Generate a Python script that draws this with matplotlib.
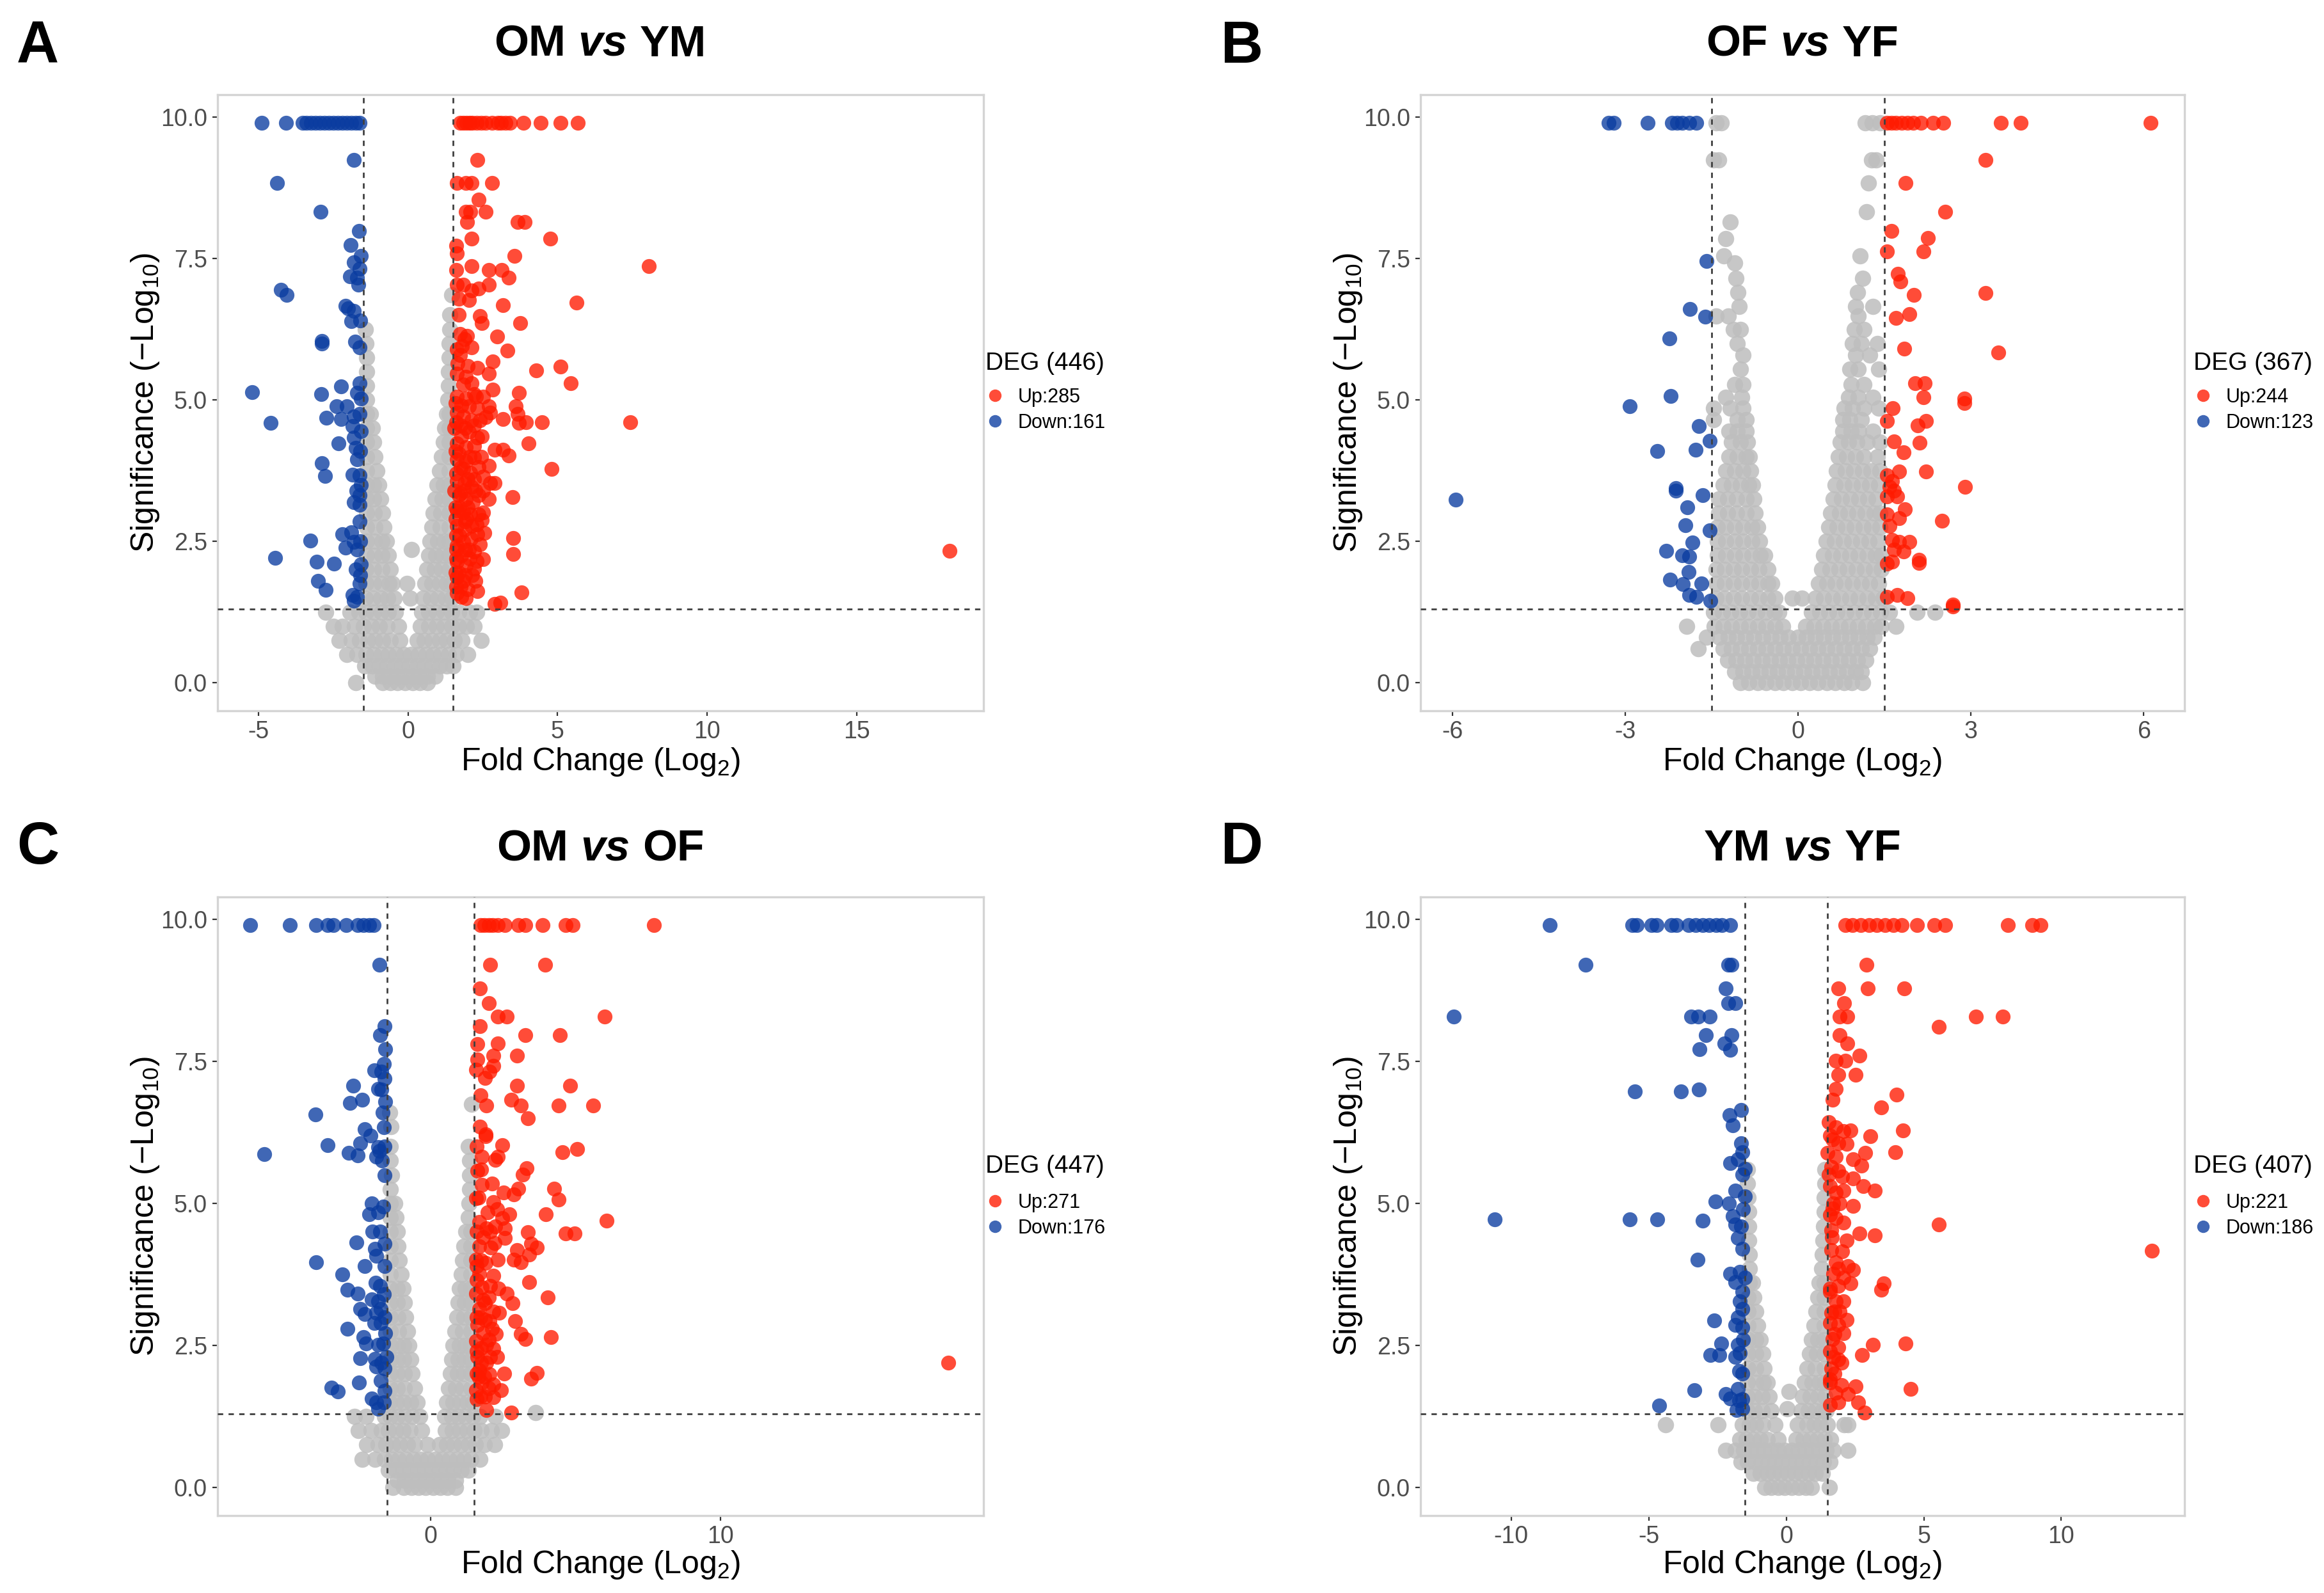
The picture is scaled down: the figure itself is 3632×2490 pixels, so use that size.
import matplotlib
matplotlib.use("Agg")
import matplotlib.pyplot as plt
from matplotlib.lines import Line2D

plt.rcParams['font.family'] = ['Liberation Sans', 'DejaVu Sans']
plt.rcParams['mathtext.default'] = 'regular'
plt.rcParams['axes.unicode_minus'] = False

RED = '#FF1A00'
BLUE = '#0A3CA0'
GREY = '#BEBEBE'

# ---------------- data ----------------
TITLES = [("OM", "YM"), ("OF", "YF"), ("OM", "OF"), ("YM", "YF")]
LETTERS = ["A", "B", "C", "D"]
DEG_TOTAL = [446, 367, 447, 407]
UP_COUNT = [285, 244, 271, 221]
DOWN_COUNT = [161, 123, 176, 186]

XLIMS = [(-6.37, 19.24), (-6.55, 6.71), (-7.35, 19.07), (-13.3, 14.48)]
XTICKS = [[-5, 0, 5, 10, 15], [-6, -3, 0, 3, 6], [0, 10], [-10, -5, 0, 5, 10]]
YTICKS = [0, 2.5, 5, 7.5, 10]
FC_CUT = 1.5
P_CUT = 1.301

TOP = 9.9

A_UP = [(x, TOP) for x in [1.74, 1.85, 1.95, 2.05, 2.15, 2.3, 2.45, 2.6, 2.8, 3.0, 3.1, 3.25, 3.4, 3.85, 4.43, 5.1, 5.67]] + [
    (2.32, 9.24), (1.64, 8.83), (1.93, 8.83), (2.12, 8.83), (2.81, 8.83), (2.36, 8.54), (1.93, 8.32), (2.08, 8.32),
    (2.60, 8.32), (1.98, 8.14), (3.66, 8.14), (3.90, 8.14), (2.12, 7.85), (4.76, 7.85), (1.60, 7.73), (1.63, 7.59),
    (3.56, 7.54), (8.05, 7.37), (2.12, 7.37), (2.70, 7.30), (3.13, 7.30), (3.37, 7.16), (1.64, 7.04), (1.84, 7.04),
    (2.12, 6.93), (2.36, 6.97), (2.70, 7.04), (1.69, 6.79), (2.03, 6.76), (3.18, 6.68), (5.63, 6.72), (2.41, 6.48),
    (2.46, 6.36), (3.75, 6.36), (1.74, 6.17), (1.88, 6.07), (1.98, 6.13), (2.12, 5.93), (2.99, 6.12), (3.32, 5.87),
    (1.64, 5.89), (1.74, 5.79), (2.84, 5.68), (2.32, 5.57), (2.70, 5.46), (4.28, 5.52), (5.10, 5.59), (5.43, 5.30),
    (1.64, 5.46), (1.93, 5.41), (2.12, 5.30), (1.84, 5.27), (2.84, 5.18), (3.71, 5.13), (1.64, 5.06), (1.93, 5.02),
    (2.27, 5.06), (2.51, 5.06), (2.03, 4.89), (2.32, 4.85), (2.70, 4.89), (3.61, 4.89), (3.66, 4.75), (1.64, 4.78),
    (1.84, 4.71), (2.12, 4.64), (2.41, 4.64), (2.60, 4.70), (2.75, 4.78), (3.18, 4.66), (3.71, 4.59), (3.95, 4.61),
    (4.47, 4.61), (7.42, 4.61), (1.55, 4.50), (1.79, 4.36), (2.03, 4.43), (2.32, 4.33), (1.64, 4.23), (1.93, 4.16),
    (2.22, 4.19), (2.46, 4.36), (4.02, 4.23), (2.89, 4.12), (3.18, 4.12), (3.37, 4.02), (1.64, 3.95), (1.93, 3.91),
    (2.22, 3.98), (1.84, 3.78), (2.08, 3.71), (2.36, 3.81), (2.70, 3.84), (4.79, 3.78), (1.64, 3.57), (1.88, 3.53),
    (2.12, 3.46), (2.51, 3.64), (2.75, 3.53), (2.89, 3.53), (1.69, 3.32), (1.93, 3.25), (2.17, 3.19), (2.36, 3.32),
    (2.70, 3.25), (3.49, 3.28), (1.64, 3.05), (1.84, 3.01), (2.08, 2.98), (2.36, 2.98), (2.51, 3.01), (1.64, 2.77),
    (1.88, 2.70), (2.12, 2.77), (2.32, 2.63), (2.46, 2.87), (1.64, 2.42), (1.84, 2.49), (2.03, 2.35), (2.22, 2.32),
    (3.51, 2.56), (3.51, 2.27), (1.64, 2.14), (1.93, 2.07), (2.22, 2.01), (2.51, 2.18), (1.64, 1.87), (1.84, 1.80),
    (2.32, 1.62), (3.80, 1.60), (1.64, 1.59), (1.79, 1.52), (1.93, 1.49), (2.89, 1.39), (3.08, 1.42), (18.1, 2.33),
    (1.55, 3.40), (1.58, 2.90), (1.60, 2.20), (1.72, 2.60), (1.75, 3.80), (1.78, 4.90), (1.95, 2.90), (2.00, 3.60),
    (2.05, 2.20), (1.70, 1.95), (1.60, 1.70), (2.00, 1.65), (2.25, 1.80), (2.40, 2.45), (2.20, 3.60),
    (1.58, 4.95), (1.60, 4.60), (1.58, 4.10), (1.60, 3.70), (1.58, 3.10), (1.60, 2.60), (1.60, 2.35), (1.58, 1.95),
    (1.75, 4.55), (1.70, 4.05), (1.75, 3.35), (1.72, 3.10), (1.78, 2.25), (1.75, 1.70), (1.90, 4.50), (1.88, 3.40),
    (1.90, 2.85), (1.92, 2.35), (1.90, 1.90), (2.05, 4.00), (2.00, 3.10), (2.10, 2.55), (2.15, 1.90), (2.20, 4.55),
    (2.25, 3.40), (2.30, 2.80), (2.30, 2.15), (2.45, 4.00), (2.50, 3.40), (2.55, 2.65), (1.65, 5.65), (1.80, 5.95),
    (1.70, 6.50), (1.62, 7.30), (2.00, 5.60), (2.20, 5.10)]

A_DOWN = [(x, TOP) for x in [-4.9, -4.09, -3.53, -3.4, -3.25, -3.1, -2.95, -2.8, -2.65, -2.5, -2.35, -2.2, -2.05, -1.9, -1.75, -1.62]] + [
    (-1.81, 9.24), (-4.38, 8.83), (-2.93, 8.33), (-1.64, 7.99), (-1.92, 7.74), (-1.57, 7.54), (-1.81, 7.43),
    (-1.62, 7.32), (-1.95, 7.18), (-1.71, 7.16), (-1.66, 7.04), (-4.25, 6.95), (-4.06, 6.85), (-2.09, 6.66),
    (-2.00, 6.62), (-1.81, 6.57), (-1.90, 6.39), (-2.89, 6.04), (-2.89, 6.00), (-1.76, 6.03), (-1.62, 5.93),
    (-5.21, 5.14), (-2.91, 5.10), (-2.24, 5.24), (-1.62, 5.30), (-1.71, 5.13), (-1.57, 5.02), (-4.60, 4.59),
    (-2.38, 4.89), (-2.05, 4.89), (-2.74, 4.68), (-2.24, 4.66), (-1.81, 4.71), (-1.62, 4.75), (-1.86, 4.54),
    (-1.81, 4.33), (-2.33, 4.23), (-2.88, 3.88), (-2.77, 3.65), (-1.71, 3.95), (-1.86, 3.68), (-1.62, 3.67),
    (-1.62, 3.32), (-1.81, 3.19), (-1.62, 3.15), (-1.62, 2.85), (-3.27, 2.51), (-2.19, 2.63), (-1.90, 2.66),
    (-2.09, 2.39), (-1.81, 2.49), (-1.71, 2.35), (-4.44, 2.21), (-3.05, 2.14), (-2.48, 2.11), (-3.01, 1.80),
    (-2.75, 1.64), (-1.62, 1.76), (-1.86, 1.55), (-1.81, 1.45), (-1.71, 1.52),
    (-1.60, 6.40), (-1.58, 4.45), (-1.60, 4.10), (-1.58, 3.50), (-1.60, 2.50), (-1.58, 2.10), (-1.60, 1.90),
    (-1.75, 2.00), (-1.72, 3.40), (-1.75, 4.15)]

A_GREY = [
    (6.85, [1.45]), (6.5, [1.40]), (6.25, [-1.42, 1.40]), (6.0, [-1.40, 1.38]), (5.75, [-1.38, 1.38]),
    (5.5, [-1.38, 1.36]), (5.25, [-1.38, 1.35]), (5.0, [-1.38, 1.33]),
    (4.75, [-1.38, -1.25, 1.28, 1.38]), (4.5, [-1.38, -1.20, 1.22, 1.38]), (4.25, [-1.38, -1.16, 1.18, 1.38]),
    (4.0, [-1.38, -1.10, 1.12, 1.38]), (3.75, [-1.38, -1.04, 1.05, 1.38]),
    (3.5, [-1.38, -1.15, -0.97, 0.96, 1.18, 1.38]), (3.25, [-1.38, -1.15, -0.92, 0.90, 1.15, 1.38]),
    (3.0, [-1.38, -1.12, -0.86, 0.85, 1.10, 1.38]), (2.75, [-1.38, -1.10, -0.80, 0.80, 1.08, 1.38]),
    (2.5, [-1.38, -1.12, -0.88, -0.72, 0.73, 0.98, 1.20, 1.38]),
    (2.35, [0.11]),
    (2.25, [-1.38, -1.12, -0.88, -0.66, 0.68, 0.92, 1.15, 1.38]),
    (2.0, [-1.40, -1.15, -0.88, -0.60, 0.62, 0.88, 1.12, 1.38]),
    (1.75, [-1.40, -1.15, -0.90, -0.64, -0.53, -0.03, 0.56, 0.80, 1.05, 1.30, 1.45]),
    (1.5, [-1.42, -1.18, -0.92, -0.68, -0.47, 0.06, 0.50, 0.75, 1.00, 1.25, 1.45]),
    (1.25, [-2.75, -1.95, -1.65, -1.40, -1.15, -0.90, -0.65, -0.42, 0.46, 0.70, 0.95, 1.20, 1.45, 1.70, 2.05, 2.30]),
    (1.0, [-2.50, -2.20, -1.80, -1.50, -1.22, -0.95, -0.70, -0.32, 0.42, 0.70, 0.95, 1.20, 1.45, 1.70, 1.95, 2.20]),
    (0.75, [-2.30, -1.90, -1.62, -1.35, -1.10, -0.85, -0.60, -0.28, 0.30, 0.55, 0.80, 1.05, 1.30, 1.55, 1.80, 2.45]),
    (0.5, [-2.05, -1.70, -1.40, -1.15, -0.90, -0.65, -0.40, -0.15, 0.10, 0.35, 0.60, 0.85, 1.10, 1.35, 1.60, 2.00]),
    (0.3, [-1.45, -1.20, -0.95, -0.70, -0.45, -0.20, 0.05, 0.30, 0.55, 0.80, 1.05, 1.30, 1.50]),
    (0.12, [-1.10, -0.85, -0.60, -0.35, -0.10, 0.15, 0.40, 0.65, 0.90]),
    (0.0, [-1.75, -0.85, -0.60, -0.35, -0.10, 0.15, 0.40, 0.65])]

B_UP = [(x, TOP) for x in [1.55, 1.62, 1.7, 1.8, 1.9, 2.0, 2.14, 2.35, 2.52, 3.52, 3.87, 6.12]] + [
    (3.26, 9.24), (1.87, 8.83), (2.56, 8.32), (1.62, 7.99), (2.26, 7.86), (1.55, 7.63), (2.18, 7.63), (1.73, 7.23),
    (1.78, 7.09), (2.01, 6.85), (3.26, 6.89), (1.70, 6.45), (1.93, 6.52), (1.85, 5.90), (3.48, 5.84), (2.04, 5.30),
    (2.20, 5.30), (2.18, 5.05), (2.89, 5.02), (2.89, 4.94), (1.65, 4.85), (1.55, 4.63), (2.08, 4.55), (2.22, 4.63),
    (1.67, 4.27), (2.11, 4.24), (1.84, 4.07), (1.76, 3.73), (2.22, 3.73), (1.55, 3.67), (1.63, 3.57), (1.59, 3.46),
    (1.67, 3.39), (1.55, 3.29), (1.72, 3.29), (2.90, 3.46), (1.86, 3.07), (1.55, 2.98), (1.76, 2.91), (2.50, 2.86),
    (1.59, 2.77), (1.63, 2.53), (1.76, 2.49), (1.93, 2.49), (1.67, 2.35), (1.84, 2.32), (1.55, 2.11), (1.63, 2.14),
    (2.10, 2.17), (2.10, 2.12), (1.55, 1.52), (1.72, 1.55), (1.90, 1.50), (2.69, 1.38), (2.69, 1.35)]

B_DOWN = [(x, TOP) for x in [-3.28, -3.20, -2.61, -2.18, -2.10, -2.01, -1.89, -1.76]] + [
    (-1.59, 7.45), (-1.87, 6.61), (-1.61, 6.47), (-2.23, 6.09), (-2.21, 5.07), (-2.92, 4.89), (-1.72, 4.54),
    (-1.53, 4.28), (-2.44, 4.10), (-1.77, 4.12), (-2.12, 3.44), (-2.12, 3.40), (-5.94, 3.24), (-1.65, 3.32),
    (-1.92, 3.10), (-1.95, 2.79), (-1.53, 2.69), (-1.83, 2.48), (-2.29, 2.33), (-2.01, 2.25), (-1.89, 2.23),
    (-1.90, 1.96), (-2.22, 1.82), (-2.00, 1.74), (-1.67, 1.76), (-1.89, 1.55), (-1.76, 1.52), (-1.52, 1.45)]

B_GREY = [
    (9.9, [-1.42, -1.33, 1.17, 1.29, 1.42]), (9.24, [-1.46, -1.38, 1.28, 1.36]), (8.83, [1.22]), (8.32, [1.19]),
    (8.15, [-1.17]), (7.85, [-1.25]), (7.55, [-1.29, 1.08]), (7.42, [-1.10]), (7.15, [-1.08, 1.12]),
    (6.9, [-1.04, 1.04]), (6.65, [-1.02, 1.00, 1.30]), (6.48, [-1.42, -1.21, 1.05]),
    (6.24, [-1.12, -1.00, 0.98, 1.15]), (6.0, [-1.05, 0.95, 1.10, 1.38]), (5.79, [-0.95, 1.00, 1.25]),
    (5.54, [-1.00, 0.90, 1.05, 1.40]), (5.27, [-1.10, -0.95, 0.92, 1.15]), (5.05, [-1.25, -0.98, 0.88, 1.05, 1.30]),
    (4.85, [-1.46, -1.17, -0.95, 0.80, 0.95, 1.15, 1.40]), (4.65, [-1.46, -1.05, -0.90, 0.78, 0.90, 1.10]),
    (4.45, [-1.20, -1.05, -0.90, 0.78, 0.92, 1.06, 1.30]),
    (4.25, [-1.15, -1.00, -0.87, 0.74, 0.88, 1.02, 1.20, 1.42]),
    (4.0, [-1.20, -1.05, -0.90, -0.84, 0.70, 0.85, 1.00, 1.15, 1.38]),
    (3.75, [-1.25, -1.10, -0.95, -0.82, 0.67, 0.82, 0.97, 1.12, 1.27, 1.42]),
    (3.5, [-1.30, -1.15, -1.00, -0.85, -0.79, 0.65, 0.80, 0.95, 1.10, 1.25, 1.40]),
    (3.25, [-1.38, -1.22, -1.06, -0.90, -0.76, 0.61, 0.76, 0.91, 1.06, 1.21, 1.36]),
    (3.0, [-1.38, -1.22, -1.06, -0.90, -0.74, 0.57, 0.72, 0.87, 1.02, 1.17, 1.32, 1.42]),
    (2.75, [-1.40, -1.25, -1.10, -0.95, -0.80, -0.70, 0.53, 0.68, 0.83, 0.98, 1.13, 1.28, 1.42]),
    (2.5, [-1.40, -1.25, -1.10, -0.95, -0.80, -0.66, 0.49, 0.64, 0.79, 0.94, 1.09, 1.24, 1.39]),
    (2.25, [-1.40, -1.25, -1.10, -0.95, -0.80, -0.65, -0.58, 0.45, 0.60, 0.75, 0.90, 1.05, 1.20, 1.35, 1.45]),
    (2.0, [-1.42, -1.27, -1.12, -0.97, -0.82, -0.67, -0.52, 0.41, 0.56, 0.71, 0.86, 1.01, 1.16, 1.31, 1.45]),
    (1.75, [-1.42, -1.27, -1.12, -0.97, -0.82, -0.67, -0.52, -0.45, 0.36, 0.50, 0.65, 0.80, 0.95, 1.10, 1.25, 1.40]),
    (1.5, [-1.42, -1.27, -1.12, -0.97, -0.82, -0.67, -0.52, -0.40, -0.10, 0.07, 0.30, 0.45, 0.60, 0.75, 0.90, 1.05,
           1.20, 1.35, 1.48]),
    (1.25, [-1.46, -1.31, -1.16, -1.01, -0.86, -0.71, -0.56, -0.41, -0.33, 0.24, 0.38, 0.53, 0.68, 0.83, 0.98, 1.13,
            1.28, 1.43, 1.59, 2.07, 2.38]),
    (1.0, [-1.93, -1.45, -1.30, -1.15, -1.00, -0.85, -0.70, -0.55, -0.40, -0.26, 0.14, 0.28, 0.43, 0.58, 0.73,
           0.88, 1.03, 1.18, 1.33, 1.45, 1.70]),
    (0.8, [-1.59, -1.36, -1.21, -1.06, -0.91, -0.76, -0.61, -0.46, -0.31, -0.16, 0.00, 0.15, 0.30, 0.45, 0.60,
           0.75, 0.90, 1.05, 1.20, 1.32]),
    (0.6, [-1.73, -1.30, -1.15, -1.00, -0.85, -0.70, -0.55, -0.40, -0.25, -0.10, 0.05, 0.20, 0.35, 0.50, 0.65,
           0.80, 0.95, 1.10, 1.25]),
    (0.4, [-1.22, -1.07, -0.92, -0.77, -0.62, -0.47, -0.32, -0.17, -0.02, 0.13, 0.28, 0.43, 0.58, 0.73, 0.88,
           1.03, 1.18]),
    (0.2, [-1.10, -0.95, -0.80, -0.65, -0.50, -0.35, -0.20, -0.05, 0.10, 0.25, 0.40, 0.55, 0.70, 0.85, 1.00, 1.10]),
    (0.0, [-1.00, -0.85, -0.70, -0.55, -0.40, -0.25, -0.10, 0.05, 0.20, 0.35, 0.50, 0.65, 0.80, 0.93, 1.12])]

C_UP = [(x, TOP) for x in [1.72, 1.85, 2.0, 2.15, 2.32, 2.57, 3.02, 3.27, 3.86, 4.66, 4.91, 7.70]] + [
    (2.05, 9.2), (3.94, 9.2), (1.69, 8.79), (2.0, 8.52), (2.32, 8.29), (2.62, 8.29), (6.01, 8.29), (1.69, 8.12),
    (3.27, 7.96), (4.46, 7.96), (1.62, 7.80), (2.32, 7.82), (2.97, 7.60), (2.17, 7.60), (1.62, 7.53), (2.17, 7.42),
    (1.57, 7.35), (1.87, 7.21), (2.02, 7.32), (2.97, 7.07), (4.81, 7.07), (1.72, 6.90), (1.92, 6.72), (2.77, 6.82),
    (3.12, 6.72), (3.36, 6.50), (4.41, 6.72), (5.61, 6.72), (1.90, 6.22), (1.90, 6.18), (2.47, 6.03), (4.54, 5.90),
    (5.06, 5.96), (1.77, 5.82), (2.22, 5.77), (2.32, 5.82), (3.32, 5.62), (3.17, 5.51), (1.62, 5.57), (1.77, 5.33),
    (2.12, 5.35), (2.52, 5.19), (3.02, 5.26), (2.87, 5.16), (4.26, 5.26), (4.41, 5.07), (1.57, 5.09), (2.17, 5.02),
    (2.72, 4.81), (2.47, 4.74), (1.97, 4.84), (3.98, 4.81), (6.06, 4.70), (1.67, 4.67), (1.92, 4.56), (2.22, 4.60),
    (2.57, 4.56), (3.36, 4.49), (2.57, 4.39), (4.66, 4.47), (4.96, 4.47), (3.46, 4.29), (3.66, 4.22), (2.97, 4.18),
    (3.41, 4.10), (1.67, 4.25), (2.07, 4.22), (1.57, 4.01), (2.32, 4.01), (2.87, 4.01), (3.12, 3.97), (1.67, 3.76),
    (2.17, 3.73), (1.77, 3.52), (1.57, 3.41), (3.41, 3.62), (2.62, 3.41), (2.82, 3.24), (2.17, 3.10), (2.37, 3.07),
    (2.92, 2.93), (2.02, 2.93), (1.67, 3.14), (1.87, 3.24), (4.04, 3.34), (1.62, 2.86), (1.82, 2.72), (2.12, 2.79),
    (1.57, 2.58), (1.92, 2.51), (2.17, 2.44), (3.12, 2.70), (3.27, 2.61), (4.14, 2.65), (1.62, 2.30), (1.92, 2.20),
    (1.67, 2.06), (2.02, 1.99), (1.77, 1.85), (2.17, 1.81), (2.42, 1.71), (1.57, 1.71), (1.87, 1.60), (2.17, 1.59),
    (2.54, 2.00), (3.46, 1.92), (3.66, 2.02), (1.92, 1.36), (2.77, 1.32), (17.86, 2.20), (1.60, 3.90), (1.80, 3.30),
    (2.00, 2.60), (1.75, 2.45), (2.30, 2.30), (1.65, 1.95), (2.05, 3.55), (2.35, 3.50), (1.80, 4.40), (2.30, 4.90),
    (1.70, 6.35), (1.58, 4.50), (1.60, 3.65), (1.58, 3.00), (1.60, 2.40), (1.58, 2.00), (1.60, 1.55), (1.75, 4.00),
    (1.72, 3.00), (1.75, 2.20), (1.72, 1.60), (1.90, 3.95), (1.88, 2.95), (1.85, 1.95), (2.05, 4.50), (2.00, 3.35),
    (2.05, 2.30), (2.00, 1.75), (2.20, 4.30), (2.25, 2.70), (1.65, 5.10), (1.60, 6.00), (1.75, 5.60)]

C_DOWN = [(x, TOP) for x in [-6.22, -4.86, -3.96, -3.56, -3.36, -2.92, -2.52, -2.32, -2.12, -1.97]] + [
    (-1.77, 9.2), (-1.60, 8.12), (-1.75, 7.96), (-1.57, 7.71), (-1.62, 7.46), (-1.94, 7.34), (-1.70, 7.32),
    (-1.70, 7.00), (-1.82, 7.02), (-2.67, 7.07), (-2.79, 6.77), (-2.37, 6.82), (-1.57, 6.79), (-3.97, 6.57),
    (-1.62, 6.34), (-2.27, 6.31), (-2.07, 6.20), (-2.42, 6.06), (-2.82, 5.89), (-2.52, 5.84), (-5.73, 5.87),
    (-3.56, 6.03), (-1.82, 5.99), (-1.87, 5.82), (-1.67, 5.75), (-1.77, 5.92), (-2.02, 5.00), (-2.12, 4.81),
    (-1.82, 4.84), (-1.64, 4.95), (-2.57, 4.31), (-1.59, 4.29), (-1.92, 4.20), (-1.87, 4.08), (-3.94, 3.96),
    (-3.05, 3.75), (-2.28, 3.90), (-1.75, 3.55), (-2.87, 3.48), (-2.52, 3.41), (-2.02, 3.31), (-1.82, 3.28),
    (-1.72, 3.14), (-2.42, 3.14), (-2.27, 3.05), (-1.87, 3.07), (-2.87, 2.79), (-2.32, 2.65), (-2.24, 2.54),
    (-1.82, 2.51), (-1.57, 2.72), (-1.64, 2.54), (-2.42, 2.28), (-1.92, 2.26), (-1.52, 2.30), (-1.87, 2.13),
    (-3.43, 1.76), (-3.20, 1.69), (-2.47, 1.85), (-1.72, 1.88), (-2.02, 1.57), (-1.82, 1.39), (-1.87, 1.50),
    (-1.60, 3.90), (-1.62, 3.40), (-1.58, 3.00), (-1.60, 2.10), (-1.58, 1.70), (-1.62, 1.50), (-1.75, 4.50),
    (-1.72, 2.90), (-1.70, 2.20), (-1.95, 2.90), (-1.90, 3.60), (-2.00, 4.50), (-1.60, 5.50), (-1.58, 6.00),
    (-1.65, 6.60), (-1.60, 7.20)]

C_GREY = [
    (6.75, [1.42]), (6.6, [-1.42]), (6.35, [-1.37]), (6.0, [-1.40, 1.30]), (5.75, [-1.38, 1.35]),
    (5.5, [-1.35, 1.35]), (5.25, [-1.38, 1.35]), (5.0, [-1.38, -1.24, 1.33]), (4.75, [-1.38, -1.20, 1.30]),
    (4.5, [-1.38, -1.15, 1.22, 1.38]), (4.25, [-1.38, -1.12, 1.15, 1.38]), (4.0, [-1.38, -1.08, 1.10, 1.38]),
    (3.75, [-1.38, -1.02, 1.05, 1.38]), (3.5, [-1.38, -1.15, -0.96, 1.00, 1.20, 1.38]),
    (3.25, [-1.38, -1.15, -0.90, 0.95, 1.18, 1.38]), (3.0, [-1.38, -1.12, -0.85, 0.90, 1.15, 1.38]),
    (2.75, [-1.38, -1.10, -0.80, 0.84, 1.10, 1.38]), (2.5, [-1.38, -1.15, -0.92, -0.74, 0.78, 1.00, 1.20, 1.38]),
    (2.25, [-1.38, -1.15, -0.92, -0.69, 0.73, 0.95, 1.18, 1.38]),
    (2.0, [-1.38, -1.15, -0.90, -0.64, 0.69, 0.92, 1.15, 1.38]),
    (1.75, [-1.40, -1.15, -0.90, -0.56, 0.62, 0.85, 1.10, 1.38]),
    (1.5, [-1.42, -1.18, -0.92, -0.68, -0.46, 0.55, 0.78, 1.02, 1.25, 1.45]),
    (1.32, [3.61]),
    (1.25, [-2.62, -2.22, -1.60, -1.38, -1.15, -0.90, -0.65, -0.38, 0.48, 0.72, 0.96, 1.20, 1.45, 1.70, 2.22]),
    (1.0, [-2.50, -2.05, -1.70, -1.45, -1.20, -0.95, -0.70, -0.30, 0.50, 0.75, 1.00, 1.25, 1.50, 1.75, 2.10, 2.45]),
    (0.75, [-2.20, -1.80, -1.55, -1.30, -1.05, -0.80, -0.55, -0.12, 0.30, 0.55, 0.80, 1.05, 1.30, 1.55, 1.85,
            2.20]),
    (0.5, [-2.37, -1.92, -1.60, -1.35, -1.10, -0.85, -0.60, -0.35, -0.10, 0.15, 0.40, 0.65, 0.90, 1.15, 1.40,
           1.70]),
    (0.3, [-1.45, -1.20, -0.95, -0.70, -0.45, -0.20, 0.05, 0.30, 0.55, 0.80, 1.05, 1.30]),
    (0.12, [-1.15, -0.90, -0.65, -0.40, -0.15, 0.10, 0.35, 0.60, 0.85]),
    (0.0, [-1.30, -0.92, -0.67, -0.42, -0.17, 0.08, 0.33, 0.58, 0.85])]

D_UP = [(x, TOP) for x in [2.16, 2.4, 2.7, 3.0, 3.3, 3.6, 3.9, 4.2, 4.75, 5.38, 5.79, 8.05, 8.95, 9.25]] + [
    (2.91, 9.2), (1.89, 8.79), (2.96, 8.79), (4.30, 8.79), (2.11, 8.52), (1.93, 8.29), (2.21, 8.29), (6.89, 8.29),
    (7.88, 8.29), (5.55, 8.11), (1.93, 7.96), (2.21, 7.82), (2.66, 7.60), (1.80, 7.51), (2.16, 7.51), (1.89, 7.26),
    (2.52, 7.26), (1.80, 7.02), (1.68, 6.82), (4.00, 6.92), (3.45, 6.69), (1.54, 6.43), (1.80, 6.34), (2.07, 6.27),
    (2.34, 6.29), (1.68, 6.13), (1.89, 6.06), (1.50, 5.89), (1.80, 5.82), (1.63, 5.64), (1.89, 5.57), (3.05, 6.18),
    (4.25, 6.29), (2.88, 5.89), (3.96, 5.90), (2.43, 5.78), (2.73, 5.66), (1.54, 5.51), (2.04, 5.47), (2.43, 5.44),
    (2.79, 5.31), (2.07, 5.23), (1.80, 5.19), (3.23, 5.23), (2.43, 4.96), (1.68, 4.91), (1.80, 4.74), (2.07, 4.66),
    (1.63, 4.53), (5.55, 4.63), (2.66, 4.47), (3.23, 4.44), (13.3, 4.17), (1.63, 4.18), (2.04, 4.16), (1.80, 3.97),
    (2.25, 3.90), (2.43, 3.83), (1.71, 3.76), (2.07, 3.69), (2.34, 3.59), (1.89, 3.55), (1.80, 3.28), (2.07, 3.28),
    (3.55, 3.59), (3.45, 3.48), (1.63, 3.07), (1.89, 2.86), (2.07, 2.72), (1.68, 2.61), (1.89, 2.47), (1.71, 2.30),
    (1.63, 2.09), (3.14, 2.51), (2.75, 2.33), (4.34, 2.54), (1.80, 1.67), (2.52, 1.78), (2.25, 1.64), (1.89, 1.50),
    (2.61, 1.50), (2.84, 1.32), (4.52, 1.73), (1.60, 3.45), (1.95, 3.10), (2.20, 2.95), (1.75, 2.70), (2.00, 2.20),
    (1.60, 1.90), (1.65, 4.40), (2.20, 4.35), (1.70, 5.00), (2.20, 6.05), (1.60, 3.50), (1.58, 2.90), (1.60, 2.40),
    (1.58, 1.85), (1.60, 1.45), (1.75, 3.10), (1.75, 2.00), (1.90, 3.85), (1.90, 2.25), (2.00, 1.80), (1.60, 4.80),
    (1.58, 5.30), (1.60, 6.20), (1.95, 5.00)]

D_DOWN = [(x, TOP) for x in [-8.59, -5.61, -5.43, -4.89, -4.71, -4.18, -4.0, -3.55, -3.3, -3.05, -2.8, -2.55, -2.35, -2.04]] + [
    (-7.29, 9.2), (-2.12, 9.2), (-2.00, 9.2), (-2.21, 8.79), (-2.12, 8.52), (-1.86, 8.52), (-12.1, 8.29),
    (-3.46, 8.29), (-3.20, 8.29), (-2.79, 8.29), (-2.93, 7.96), (-2.00, 7.96), (-2.25, 7.82), (-2.04, 7.70),
    (-3.16, 7.71), (-5.50, 6.97), (-3.82, 6.97), (-3.18, 7.01), (-2.07, 6.55), (-1.95, 6.38), (-1.64, 6.64),
    (-1.64, 6.06), (-2.04, 5.71), (-1.77, 5.78), (-1.50, 5.61), (-1.59, 5.51), (-1.86, 5.23), (-1.50, 5.12),
    (-2.57, 5.03), (-2.09, 5.00), (-10.6, 4.72), (-5.70, 4.72), (-4.68, 4.72), (-3.05, 4.70), (-1.95, 4.77),
    (-1.86, 4.63), (-1.64, 4.60), (-1.77, 4.39), (-3.23, 4.01), (-2.04, 3.76), (-1.68, 3.80), (-1.50, 3.69),
    (-1.86, 3.62), (-1.68, 3.28), (-1.59, 3.14), (-2.63, 2.94), (-1.86, 2.86), (-1.59, 2.82), (-2.36, 2.54),
    (-1.77, 2.51), (-1.68, 2.37), (-2.75, 2.33), (-2.43, 2.33), (-1.86, 2.30), (-3.34, 1.71), (-2.21, 1.64),
    (-2.04, 1.57), (-1.77, 1.74), (-1.71, 1.53), (-4.63, 1.44), (-1.80, 1.36), (-1.59, 1.39),
    (-1.60, 3.45), (-1.58, 2.60), (-1.60, 2.00), (-1.60, 1.55), (-1.75, 3.00), (-1.72, 2.05), (-1.60, 4.20),
    (-1.58, 4.90), (-1.60, 5.90)]

D_GREY = [
    (5.6, [-1.42, 1.40]), (5.35, [-1.40, 1.40]), (5.1, [-1.38, 1.38]), (4.85, [-1.36, 1.38]), (4.6, [-1.36, 1.36]),
    (4.35, [-1.36, 1.34]), (4.1, [-1.35, 1.32]), (3.85, [-1.35, 1.28]), (3.6, [-1.35, -1.22, 1.20, 1.38]),
    (3.35, [-1.38, -1.18, 1.14, 1.38]), (3.1, [-1.38, -1.10, 1.08, 1.38]), (2.85, [-1.38, -1.04, 1.00, 1.38]),
    (2.6, [-1.38, -1.12, -0.95, 0.92, 1.15, 1.38]), (2.35, [-1.38, -1.12, -0.86, 0.84, 1.10, 1.38]),
    (2.1, [-1.38, -1.10, -0.80, 0.75, 1.05, 1.38]), (1.85, [-1.40, -1.12, -0.84, -0.70, 0.66, 0.95, 1.20, 1.40]),
    (1.69, [0.11]),
    (1.6, [-1.40, -1.15, -0.88, -0.62, 0.60, 0.88, 1.15, 1.40]),
    (1.39, [0.02]),
    (1.35, [-1.40, -1.15, -0.88, -0.55, 0.54, 0.80, 1.05, 1.30, 1.45]),
    (1.1, [-4.39, -2.48, -1.60, -1.35, -1.10, -0.85, -0.40, 0.40, 0.75, 1.00, 1.25, 1.50, 2.11, 2.25]),
    (0.85, [-1.68, -1.45, -1.20, -0.95, -0.70, -0.30, 0.35, 0.62, 0.88, 1.12, 1.38, 1.62]),
    (0.65, [-2.21, -1.86, -1.55, -1.30, -1.05, -0.80, -0.55, -0.30, -0.05, 0.20, 0.45, 0.70, 0.95, 1.20, 1.45,
            1.70, 2.25]),
    (0.45, [-1.65, -1.40, -1.15, -0.90, -0.65, -0.40, -0.15, 0.10, 0.35, 0.60, 0.85, 1.10, 1.35, 1.60]),
    (0.25, [-1.20, -0.95, -0.70, -0.45, -0.20, 0.05, 0.30, 0.55, 0.80, 1.05, 1.30]),
    (0.0, [-0.79, -0.55, -0.30, -0.05, 0.20, 0.45, 0.70, 0.91, 1.57])]

PANELS = [(A_GREY, A_UP, A_DOWN), (B_GREY, B_UP, B_DOWN), (C_GREY, C_UP, C_DOWN), (D_GREY, D_UP, D_DOWN)]

# ---------------- layout (pixels of the 3632x2490 canvas) ----------------
W, H = 3632, 2490
AX_RECTS = [
    [340 / W, 1 - 1111 / H, 1197 / W, 963 / H],
    [2220 / W, 1 - 1111 / H, 1194 / W, 963 / H],
    [340 / W, 1 - 2369 / H, 1197 / W, 967 / H],
    [2220 / W, 1 - 2369 / H, 1194 / W, 967 / H]]
LETTER_X = [59, 1941, 59, 1941]
TITLE_X = [938, 2817, 938, 2817]
ROW_BASE = [98, 98, 1350, 1350]        # baseline of panel letters
TITLE_BASE = [88, 88, 1345, 1345]      # baseline of panel titles
LEG_X = [1540, 3428, 1540, 3428]
LEG_TITLE_BASE = [578, 578, 1833, 1833]
LEG_TOP = [606, 606, 1865, 1865]

fig = plt.figure(figsize=(W / 200, H / 200), dpi=200)
renderer = fig.canvas.get_renderer()
MS = 70
MS_GREY = 84

for i in range(4):
    grey, up, down = PANELS[i]
    ax = fig.add_axes(AX_RECTS[i])

    gx = [x for y, xs in grey for x in xs]
    gy = [y for y, xs in grey for x in xs]
    ax.scatter(gx, gy, s=MS_GREY, color=GREY, alpha=0.85, linewidths=0, zorder=2)
    ax.scatter([p[0] for p in up], [p[1] for p in up], s=MS, color=RED, alpha=0.78, linewidths=0, zorder=3)
    ax.scatter([p[0] for p in down], [p[1] for p in down], s=MS, color=BLUE, alpha=0.78, linewidths=0, zorder=3)

    for xv in (-FC_CUT, FC_CUT):
        ax.axvline(xv, color='#404040', lw=1.0, ls=(0, (3, 3)), zorder=4)
    ax.axhline(P_CUT, color='#404040', lw=1.0, ls=(0, (3, 3)), zorder=4)

    ax.set_xlim(*XLIMS[i])
    ax.set_ylim(-0.495, 10.395)
    ax.set_xticks(XTICKS[i])
    ax.set_yticks(YTICKS)
    ax.set_yticklabels(['%.1f' % v for v in YTICKS])
    ax.tick_params(labelsize=13.5, labelcolor='#4D4D4D', color='#333333', length=2.75, width=0.8)
    ax.tick_params(axis='x', pad=2.5)
    ax.tick_params(axis='y', pad=3.0)
    for sp in ax.spines.values():
        sp.set_color('#D4D4D4')
        sp.set_linewidth(1.2)

    ax.set_xlabel('Fold Change (Log$_2$)', fontsize=18)
    ax.set_ylabel('Significance (\u2212Log$_{10}$)', fontsize=18)
    ax.xaxis.set_label_coords(0.5, -0.083 if i < 2 else -0.080)
    ax.xaxis.label.set_va('center')
    ax.yaxis.set_label_coords(-113 / AX_RECTS[i][2] / W, 0.5)
    ax.yaxis.label.set_va('center')

    # legend: title as text, entries through legend
    fig.text(LEG_X[i] / W, 1 - LEG_TITLE_BASE[i] / H, 'DEG (%d)' % DEG_TOTAL[i], fontsize=14,
             ha='left', va='baseline')
    handles = [Line2D([], [], ls='', marker='o', markersize=7.0, markeredgewidth=0, color=RED, alpha=0.78),
               Line2D([], [], ls='', marker='o', markersize=7.0, markeredgewidth=0, color=BLUE, alpha=0.78)]
    ax.legend(handles, ['Up:%d' % UP_COUNT[i], 'Down:%d' % DOWN_COUNT[i]], fontsize=11,
              loc='upper left', bbox_to_anchor=(LEG_X[i] / W, 1 - LEG_TOP[i] / H),
              bbox_transform=fig.transFigure, frameon=False, borderpad=0, handlelength=1.0,
              handletextpad=0.65, labelspacing=0.32, borderaxespad=0)

    # panel letter
    fig.text(LETTER_X[i] / W, 1 - ROW_BASE[i] / H, LETTERS[i], fontsize=33, fontweight='bold',
             ha='center', va='baseline')

    # title "X vs Y" with italic vs
    left_s, right_s = TITLES[i]
    parts = [(left_s, 'normal'), ('vs', 'italic'), (right_s, 'normal')]
    texts = [fig.text(0, 1 - TITLE_BASE[i] / H, s, fontsize=25, fontweight='bold', fontstyle=st,
                      ha='left', va='baseline') for s, st in parts]
    widths = [t.get_window_extent(renderer).width for t in texts]
    gap = 0.278 * 25 * 200 / 72
    total = sum(widths) + 2 * gap
    x0 = TITLE_X[i] - total / 2
    for t, w in zip(texts, widths):
        t.set_x(x0 / W)
        x0 += w + gap

fig.savefig('out.png', dpi=200)
